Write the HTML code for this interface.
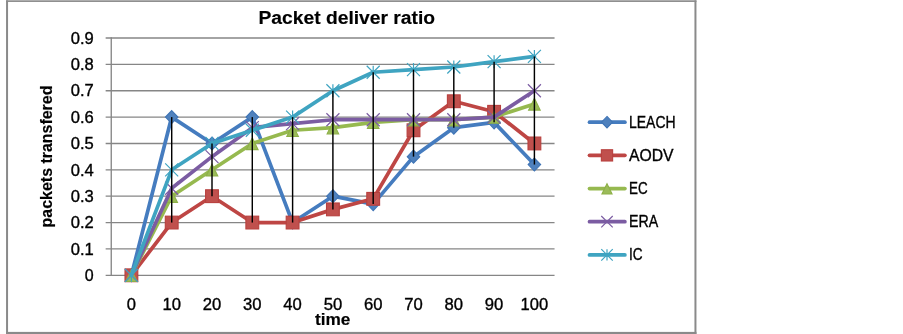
<!DOCTYPE html>
<html><head><meta charset="utf-8"><title>Packet deliver ratio</title>
<style>html,body{margin:0;padding:0;background:#fff;}svg{display:block;}</style></head>
<body>
<svg width="903" height="334" viewBox="0 0 903 334" font-family="'Liberation Sans', sans-serif">
<rect x="0" y="0" width="903" height="334" fill="#fff"/>
<rect x="6.05" y="0.3" width="690.4" height="1.65" fill="#8a8a8a"/>
<rect x="6.05" y="331.9" width="690.4" height="2.1" fill="#8a8a8a"/>
<rect x="6.05" y="0.4" width="2" height="333.6" fill="#8a8a8a"/>
<rect x="694.45" y="0.4" width="2" height="333.6" fill="#8a8a8a"/>
<line x1="105.65" y1="275.30" x2="554.55" y2="275.30" stroke="#868686" stroke-width="1.35"/>
<line x1="105.65" y1="248.93" x2="554.55" y2="248.93" stroke="#868686" stroke-width="1.35"/>
<line x1="105.65" y1="222.56" x2="554.55" y2="222.56" stroke="#868686" stroke-width="1.35"/>
<line x1="105.65" y1="196.19" x2="554.55" y2="196.19" stroke="#868686" stroke-width="1.35"/>
<line x1="105.65" y1="169.82" x2="554.55" y2="169.82" stroke="#868686" stroke-width="1.35"/>
<line x1="105.65" y1="143.45" x2="554.55" y2="143.45" stroke="#868686" stroke-width="1.35"/>
<line x1="105.65" y1="117.08" x2="554.55" y2="117.08" stroke="#868686" stroke-width="1.35"/>
<line x1="105.65" y1="90.71" x2="554.55" y2="90.71" stroke="#868686" stroke-width="1.35"/>
<line x1="105.65" y1="64.34" x2="554.55" y2="64.34" stroke="#868686" stroke-width="1.35"/>
<line x1="105.65" y1="37.97" x2="554.55" y2="37.97" stroke="#868686" stroke-width="1.35"/>
<line x1="111.25" y1="37.37" x2="111.25" y2="275.90" stroke="#868686" stroke-width="1.35"/>
<text x="93.7" y="281.00" font-size="16px" text-anchor="end" textLength="8.9" lengthAdjust="spacingAndGlyphs" fill="#000" stroke="#000" stroke-width="0.35">0</text>
<text x="93.7" y="254.63" font-size="16px" text-anchor="end" textLength="23.0" lengthAdjust="spacingAndGlyphs" fill="#000" stroke="#000" stroke-width="0.35">0.1</text>
<text x="93.7" y="228.26" font-size="16px" text-anchor="end" textLength="23.0" lengthAdjust="spacingAndGlyphs" fill="#000" stroke="#000" stroke-width="0.35">0.2</text>
<text x="93.7" y="201.89" font-size="16px" text-anchor="end" textLength="23.0" lengthAdjust="spacingAndGlyphs" fill="#000" stroke="#000" stroke-width="0.35">0.3</text>
<text x="93.7" y="175.52" font-size="16px" text-anchor="end" textLength="23.0" lengthAdjust="spacingAndGlyphs" fill="#000" stroke="#000" stroke-width="0.35">0.4</text>
<text x="93.7" y="149.15" font-size="16px" text-anchor="end" textLength="23.0" lengthAdjust="spacingAndGlyphs" fill="#000" stroke="#000" stroke-width="0.35">0.5</text>
<text x="93.7" y="122.78" font-size="16px" text-anchor="end" textLength="23.0" lengthAdjust="spacingAndGlyphs" fill="#000" stroke="#000" stroke-width="0.35">0.6</text>
<text x="93.7" y="96.41" font-size="16px" text-anchor="end" textLength="23.0" lengthAdjust="spacingAndGlyphs" fill="#000" stroke="#000" stroke-width="0.35">0.7</text>
<text x="93.7" y="70.04" font-size="16px" text-anchor="end" textLength="23.0" lengthAdjust="spacingAndGlyphs" fill="#000" stroke="#000" stroke-width="0.35">0.8</text>
<text x="93.7" y="43.67" font-size="16px" text-anchor="end" textLength="23.0" lengthAdjust="spacingAndGlyphs" fill="#000" stroke="#000" stroke-width="0.35">0.9</text>
<text x="131.40" y="310.3" font-size="16px" text-anchor="middle" textLength="9.2" lengthAdjust="spacingAndGlyphs" fill="#000" stroke="#000" stroke-width="0.35">0</text>
<text x="171.70" y="310.3" font-size="16px" text-anchor="middle" textLength="18.5" lengthAdjust="spacingAndGlyphs" fill="#000" stroke="#000" stroke-width="0.35">10</text>
<text x="212.00" y="310.3" font-size="16px" text-anchor="middle" textLength="18.5" lengthAdjust="spacingAndGlyphs" fill="#000" stroke="#000" stroke-width="0.35">20</text>
<text x="252.30" y="310.3" font-size="16px" text-anchor="middle" textLength="18.5" lengthAdjust="spacingAndGlyphs" fill="#000" stroke="#000" stroke-width="0.35">30</text>
<text x="292.60" y="310.3" font-size="16px" text-anchor="middle" textLength="18.5" lengthAdjust="spacingAndGlyphs" fill="#000" stroke="#000" stroke-width="0.35">40</text>
<text x="332.90" y="310.3" font-size="16px" text-anchor="middle" textLength="18.5" lengthAdjust="spacingAndGlyphs" fill="#000" stroke="#000" stroke-width="0.35">50</text>
<text x="373.20" y="310.3" font-size="16px" text-anchor="middle" textLength="18.5" lengthAdjust="spacingAndGlyphs" fill="#000" stroke="#000" stroke-width="0.35">60</text>
<text x="413.50" y="310.3" font-size="16px" text-anchor="middle" textLength="18.5" lengthAdjust="spacingAndGlyphs" fill="#000" stroke="#000" stroke-width="0.35">70</text>
<text x="453.80" y="310.3" font-size="16px" text-anchor="middle" textLength="18.5" lengthAdjust="spacingAndGlyphs" fill="#000" stroke="#000" stroke-width="0.35">80</text>
<text x="494.10" y="310.3" font-size="16px" text-anchor="middle" textLength="18.5" lengthAdjust="spacingAndGlyphs" fill="#000" stroke="#000" stroke-width="0.35">90</text>
<text x="534.40" y="310.3" font-size="16px" text-anchor="middle" textLength="27.6" lengthAdjust="spacingAndGlyphs" fill="#000" stroke="#000" stroke-width="0.35">100</text>
<text x="346.8" y="24.1" font-size="17.5px" font-weight="bold" text-anchor="middle" textLength="176.6" lengthAdjust="spacingAndGlyphs" fill="#000" stroke="#000" stroke-width="0.15">Packet deliver ratio</text>
<text x="332.7" y="324.5" font-size="16px" font-weight="bold" text-anchor="middle" textLength="35.4" lengthAdjust="spacingAndGlyphs" fill="#000" stroke="#000" stroke-width="0.15">time</text>
<text transform="translate(52.3 156.5) rotate(-90)" font-size="17px" font-weight="bold" text-anchor="middle" textLength="141.8" lengthAdjust="spacingAndGlyphs" fill="#000" stroke="#000" stroke-width="0.15">packets transfered</text>
<polyline points="131.40,275.30 171.70,117.08 212.00,143.45 252.30,117.08 292.60,222.56 332.90,196.19 373.20,204.10 413.50,156.64 453.80,127.63 494.10,122.35 534.40,164.55" fill="none" stroke="#457cbf" stroke-width="3.7" stroke-linejoin="round" stroke-linecap="round"/>
<path d="M131.40 268.80L137.64 275.30L131.40 281.80L125.16 275.30Z" fill="#4f81bd" stroke="#3f74b5" stroke-width="1.1" stroke-linejoin="miter"/>
<path d="M171.70 110.58L177.94 117.08L171.70 123.58L165.46 117.08Z" fill="#4f81bd" stroke="#3f74b5" stroke-width="1.1" stroke-linejoin="miter"/>
<path d="M212.00 136.95L218.24 143.45L212.00 149.95L205.76 143.45Z" fill="#4f81bd" stroke="#3f74b5" stroke-width="1.1" stroke-linejoin="miter"/>
<path d="M252.30 110.58L258.54 117.08L252.30 123.58L246.06 117.08Z" fill="#4f81bd" stroke="#3f74b5" stroke-width="1.1" stroke-linejoin="miter"/>
<path d="M292.60 216.06L298.84 222.56L292.60 229.06L286.36 222.56Z" fill="#4f81bd" stroke="#3f74b5" stroke-width="1.1" stroke-linejoin="miter"/>
<path d="M332.90 189.69L339.14 196.19L332.90 202.69L326.66 196.19Z" fill="#4f81bd" stroke="#3f74b5" stroke-width="1.1" stroke-linejoin="miter"/>
<path d="M373.20 197.60L379.44 204.10L373.20 210.60L366.96 204.10Z" fill="#4f81bd" stroke="#3f74b5" stroke-width="1.1" stroke-linejoin="miter"/>
<path d="M413.50 150.14L419.74 156.64L413.50 163.14L407.26 156.64Z" fill="#4f81bd" stroke="#3f74b5" stroke-width="1.1" stroke-linejoin="miter"/>
<path d="M453.80 121.13L460.04 127.63L453.80 134.13L447.56 127.63Z" fill="#4f81bd" stroke="#3f74b5" stroke-width="1.1" stroke-linejoin="miter"/>
<path d="M494.10 115.85L500.34 122.35L494.10 128.85L487.86 122.35Z" fill="#4f81bd" stroke="#3f74b5" stroke-width="1.1" stroke-linejoin="miter"/>
<path d="M534.40 158.05L540.64 164.55L534.40 171.05L528.16 164.55Z" fill="#4f81bd" stroke="#3f74b5" stroke-width="1.1" stroke-linejoin="miter"/>
<polyline points="131.40,275.30 171.70,222.56 212.00,196.19 252.30,222.56 292.60,222.56 332.90,209.38 373.20,198.83 413.50,130.27 453.80,101.26 494.10,111.81 534.40,143.45" fill="none" stroke="#be4644" stroke-width="3.7" stroke-linejoin="round" stroke-linecap="round"/>
<rect x="125.00" y="268.90" width="12.80" height="12.80" fill="#c0504d" stroke="#b8403e" stroke-width="1.1"/>
<rect x="165.30" y="216.16" width="12.80" height="12.80" fill="#c0504d" stroke="#b8403e" stroke-width="1.1"/>
<rect x="205.60" y="189.79" width="12.80" height="12.80" fill="#c0504d" stroke="#b8403e" stroke-width="1.1"/>
<rect x="245.90" y="216.16" width="12.80" height="12.80" fill="#c0504d" stroke="#b8403e" stroke-width="1.1"/>
<rect x="286.20" y="216.16" width="12.80" height="12.80" fill="#c0504d" stroke="#b8403e" stroke-width="1.1"/>
<rect x="326.50" y="202.97" width="12.80" height="12.80" fill="#c0504d" stroke="#b8403e" stroke-width="1.1"/>
<rect x="366.80" y="192.43" width="12.80" height="12.80" fill="#c0504d" stroke="#b8403e" stroke-width="1.1"/>
<rect x="407.10" y="123.87" width="12.80" height="12.80" fill="#c0504d" stroke="#b8403e" stroke-width="1.1"/>
<rect x="447.40" y="94.86" width="12.80" height="12.80" fill="#c0504d" stroke="#b8403e" stroke-width="1.1"/>
<rect x="487.70" y="105.41" width="12.80" height="12.80" fill="#c0504d" stroke="#b8403e" stroke-width="1.1"/>
<rect x="528.00" y="137.05" width="12.80" height="12.80" fill="#c0504d" stroke="#b8403e" stroke-width="1.1"/>
<polyline points="131.40,275.30 171.70,196.19 212.00,169.82 252.30,143.45 292.60,130.27 332.90,127.63 373.20,122.35 413.50,119.72 453.80,119.72 494.10,117.08 534.40,103.90" fill="none" stroke="#96b94f" stroke-width="3.7" stroke-linejoin="round" stroke-linecap="round"/>
<path d="M131.40 269.70L137.20 281.50L125.60 281.50Z" fill="#9bbb59" stroke="#8db047" stroke-width="1.1"/>
<path d="M171.70 190.59L177.50 202.39L165.90 202.39Z" fill="#9bbb59" stroke="#8db047" stroke-width="1.1"/>
<path d="M212.00 164.22L217.80 176.02L206.20 176.02Z" fill="#9bbb59" stroke="#8db047" stroke-width="1.1"/>
<path d="M252.30 137.85L258.10 149.65L246.50 149.65Z" fill="#9bbb59" stroke="#8db047" stroke-width="1.1"/>
<path d="M292.60 124.67L298.40 136.47L286.80 136.47Z" fill="#9bbb59" stroke="#8db047" stroke-width="1.1"/>
<path d="M332.90 122.03L338.70 133.83L327.10 133.83Z" fill="#9bbb59" stroke="#8db047" stroke-width="1.1"/>
<path d="M373.20 116.75L379.00 128.55L367.40 128.55Z" fill="#9bbb59" stroke="#8db047" stroke-width="1.1"/>
<path d="M413.50 114.12L419.30 125.92L407.70 125.92Z" fill="#9bbb59" stroke="#8db047" stroke-width="1.1"/>
<path d="M453.80 114.12L459.60 125.92L448.00 125.92Z" fill="#9bbb59" stroke="#8db047" stroke-width="1.1"/>
<path d="M494.10 111.48L499.90 123.28L488.30 123.28Z" fill="#9bbb59" stroke="#8db047" stroke-width="1.1"/>
<path d="M534.40 98.30L540.20 110.10L528.60 110.10Z" fill="#9bbb59" stroke="#8db047" stroke-width="1.1"/>
<polyline points="131.40,275.30 171.70,188.28 212.00,156.64 252.30,127.63 292.60,123.67 332.90,119.72 373.20,119.72 413.50,119.72 453.80,119.72 494.10,117.08 534.40,90.71" fill="none" stroke="#7b5ca2" stroke-width="3.7" stroke-linejoin="round" stroke-linecap="round"/>
<path d="M124.90 268.80L137.90 281.80M137.90 268.80L124.90 281.80" fill="none" stroke="#7b5ca2" stroke-width="1.2"/>
<path d="M165.20 181.78L178.20 194.78M178.20 181.78L165.20 194.78" fill="none" stroke="#7b5ca2" stroke-width="1.2"/>
<path d="M205.50 150.14L218.50 163.14M218.50 150.14L205.50 163.14" fill="none" stroke="#7b5ca2" stroke-width="1.2"/>
<path d="M245.80 121.13L258.80 134.13M258.80 121.13L245.80 134.13" fill="none" stroke="#7b5ca2" stroke-width="1.2"/>
<path d="M286.10 117.17L299.10 130.17M299.10 117.17L286.10 130.17" fill="none" stroke="#7b5ca2" stroke-width="1.2"/>
<path d="M326.40 113.22L339.40 126.22M339.40 113.22L326.40 126.22" fill="none" stroke="#7b5ca2" stroke-width="1.2"/>
<path d="M366.70 113.22L379.70 126.22M379.70 113.22L366.70 126.22" fill="none" stroke="#7b5ca2" stroke-width="1.2"/>
<path d="M407.00 113.22L420.00 126.22M420.00 113.22L407.00 126.22" fill="none" stroke="#7b5ca2" stroke-width="1.2"/>
<path d="M447.30 113.22L460.30 126.22M460.30 113.22L447.30 126.22" fill="none" stroke="#7b5ca2" stroke-width="1.2"/>
<path d="M487.60 110.58L500.60 123.58M500.60 110.58L487.60 123.58" fill="none" stroke="#7b5ca2" stroke-width="1.2"/>
<path d="M527.90 84.21L540.90 97.21M540.90 84.21L527.90 97.21" fill="none" stroke="#7b5ca2" stroke-width="1.2"/>
<polyline points="131.40,275.30 171.70,169.82 212.00,143.45 252.30,130.27 292.60,117.08 332.90,90.71 373.20,72.25 413.50,69.61 453.80,66.98 494.10,61.70 534.40,56.43" fill="none" stroke="#3fa4c1" stroke-width="3.7" stroke-linejoin="round" stroke-linecap="round"/>
<path d="M124.90 268.80L137.90 281.80M137.90 268.80L124.90 281.80M131.40 268.80L131.40 281.80" fill="none" stroke="#3fa4c1" stroke-width="1.2"/>
<path d="M165.20 163.32L178.20 176.32M178.20 163.32L165.20 176.32M171.70 163.32L171.70 176.32" fill="none" stroke="#3fa4c1" stroke-width="1.2"/>
<path d="M205.50 136.95L218.50 149.95M218.50 136.95L205.50 149.95M212.00 136.95L212.00 149.95" fill="none" stroke="#3fa4c1" stroke-width="1.2"/>
<path d="M245.80 123.77L258.80 136.77M258.80 123.77L245.80 136.77M252.30 123.77L252.30 136.77" fill="none" stroke="#3fa4c1" stroke-width="1.2"/>
<path d="M286.10 110.58L299.10 123.58M299.10 110.58L286.10 123.58M292.60 110.58L292.60 123.58" fill="none" stroke="#3fa4c1" stroke-width="1.2"/>
<path d="M326.40 84.21L339.40 97.21M339.40 84.21L326.40 97.21M332.90 84.21L332.90 97.21" fill="none" stroke="#3fa4c1" stroke-width="1.2"/>
<path d="M366.70 65.75L379.70 78.75M379.70 65.75L366.70 78.75M373.20 65.75L373.20 78.75" fill="none" stroke="#3fa4c1" stroke-width="1.2"/>
<path d="M407.00 63.11L420.00 76.11M420.00 63.11L407.00 76.11M413.50 63.11L413.50 76.11" fill="none" stroke="#3fa4c1" stroke-width="1.2"/>
<path d="M447.30 60.48L460.30 73.48M460.30 60.48L447.30 73.48M453.80 60.48L453.80 73.48" fill="none" stroke="#3fa4c1" stroke-width="1.2"/>
<path d="M487.60 55.20L500.60 68.20M500.60 55.20L487.60 68.20M494.10 55.20L494.10 68.20" fill="none" stroke="#3fa4c1" stroke-width="1.2"/>
<path d="M527.90 49.93L540.90 62.93M540.90 49.93L527.90 62.93M534.40 49.93L534.40 62.93" fill="none" stroke="#3fa4c1" stroke-width="1.2"/>
<line x1="171.70" y1="117.08" x2="171.70" y2="222.56" stroke="#000" stroke-width="1.45"/>
<line x1="212.00" y1="143.45" x2="212.00" y2="196.19" stroke="#000" stroke-width="1.45"/>
<line x1="252.30" y1="117.08" x2="252.30" y2="222.56" stroke="#000" stroke-width="1.45"/>
<line x1="292.60" y1="117.08" x2="292.60" y2="222.56" stroke="#000" stroke-width="1.45"/>
<line x1="332.90" y1="90.71" x2="332.90" y2="209.38" stroke="#000" stroke-width="1.45"/>
<line x1="373.20" y1="72.25" x2="373.20" y2="204.10" stroke="#000" stroke-width="1.45"/>
<line x1="413.50" y1="69.61" x2="413.50" y2="156.64" stroke="#000" stroke-width="1.45"/>
<line x1="453.80" y1="66.98" x2="453.80" y2="127.63" stroke="#000" stroke-width="1.45"/>
<line x1="494.10" y1="61.70" x2="494.10" y2="122.35" stroke="#000" stroke-width="1.45"/>
<line x1="534.40" y1="56.43" x2="534.40" y2="164.55" stroke="#000" stroke-width="1.45"/>
<line x1="589.5" y1="122.20" x2="624.9" y2="122.20" stroke="#457cbf" stroke-width="3.7" stroke-linecap="round"/>
<path d="M607.00 116.48L612.49 122.20L607.00 127.92L601.51 122.20Z" fill="#4f81bd" stroke="#3f74b5" stroke-width="1.1" stroke-linejoin="miter"/>
<text x="629.0" y="127.50" font-size="16px" textLength="46.6" lengthAdjust="spacingAndGlyphs" fill="#000" stroke="#000" stroke-width="0.35">LEACH</text>
<line x1="589.5" y1="155.37" x2="624.9" y2="155.37" stroke="#be4644" stroke-width="3.7" stroke-linecap="round"/>
<rect x="601.37" y="149.74" width="11.26" height="11.26" fill="#c0504d" stroke="#b8403e" stroke-width="1.1"/>
<text x="629.0" y="160.67" font-size="16px" textLength="44.6" lengthAdjust="spacingAndGlyphs" fill="#000" stroke="#000" stroke-width="0.35">AODV</text>
<line x1="589.5" y1="188.54" x2="624.9" y2="188.54" stroke="#96b94f" stroke-width="3.7" stroke-linecap="round"/>
<path d="M607.00 183.68L612.06 194.00L601.94 194.00Z" fill="#9bbb59" stroke="#8db047" stroke-width="1.1"/>
<text x="629.0" y="193.84" font-size="16px" textLength="18.6" lengthAdjust="spacingAndGlyphs" fill="#000" stroke="#000" stroke-width="0.35">EC</text>
<line x1="589.5" y1="221.71" x2="624.9" y2="221.71" stroke="#7b5ca2" stroke-width="3.7" stroke-linecap="round"/>
<path d="M601.28 215.99L612.72 227.43M612.72 215.99L601.28 227.43" fill="none" stroke="#7b5ca2" stroke-width="1.2"/>
<text x="629.0" y="227.01" font-size="16px" textLength="29.2" lengthAdjust="spacingAndGlyphs" fill="#000" stroke="#000" stroke-width="0.35">ERA</text>
<line x1="589.5" y1="254.88" x2="624.9" y2="254.88" stroke="#3fa4c1" stroke-width="3.7" stroke-linecap="round"/>
<path d="M601.28 249.16L612.72 260.60M612.72 249.16L601.28 260.60M607.00 249.16L607.00 260.60" fill="none" stroke="#3fa4c1" stroke-width="1.2"/>
<text x="629.0" y="260.18" font-size="16px" textLength="13.6" lengthAdjust="spacingAndGlyphs" fill="#000" stroke="#000" stroke-width="0.35">IC</text>
</svg>
</body></html>
